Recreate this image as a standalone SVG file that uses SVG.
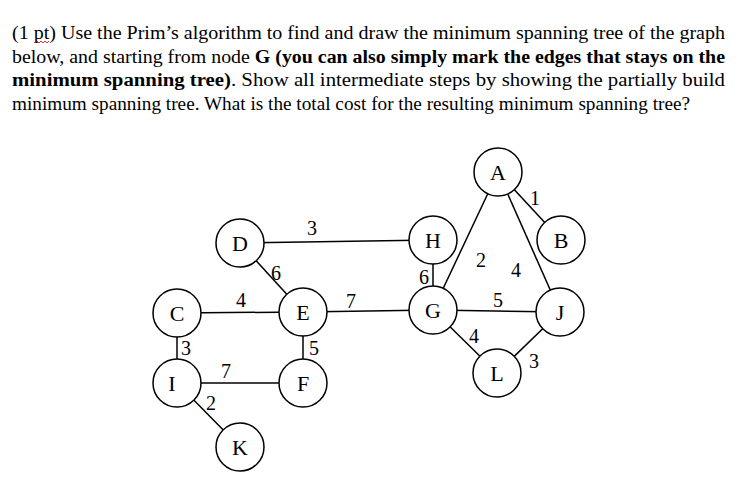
<svg xmlns="http://www.w3.org/2000/svg" width="751" height="504" viewBox="0 0 751 504">
<style>
.t{font-family:"Liberation Serif",serif;font-size:19.2px;fill:#000}
.n circle{fill:#fff;stroke:#000;stroke-width:1.5}
.n text{font-family:"Liberation Serif",serif;font-size:22px;text-anchor:middle;fill:#000}
.e line{stroke:#000;stroke-width:1.5}
.w{font-family:"Liberation Serif",serif;font-size:20px;text-anchor:middle;fill:#000}
</style>
<rect width="751" height="504" fill="#fff"/>
<text class="t" x="12" y="39" textLength="713" lengthAdjust="spacingAndGlyphs">(1 pt) Use the Prim’s algorithm to find and draw the minimum spanning tree of the graph</text>
<text class="t" x="12" y="63" textLength="713" lengthAdjust="spacingAndGlyphs">below, and starting from node <tspan font-weight="bold">G (you can also simply mark the edges that stays on the</tspan></text>
<text class="t" x="12" y="86" textLength="713" lengthAdjust="spacingAndGlyphs"><tspan font-weight="bold">minimum spanning tree)</tspan>. Show all intermediate steps by showing the partially build</text>
<text class="t" x="12" y="110" textLength="678" lengthAdjust="spacingAndGlyphs">minimum spanning tree. What is the total cost for the resulting minimum spanning tree?</text>
<path d="M35 43 l2 -2 l2 2 l2 -2 l2 2 l2 -2 l2 2 l2 -2" stroke="#c00" stroke-width="0.8" fill="none"/>
<g id="edges" class="e">
<line x1="240" y1="243" x2="433" y2="240"/>
<line x1="240" y1="243" x2="303" y2="312"/>
<line x1="177" y1="313" x2="303" y2="312"/>
<line x1="303" y1="312" x2="433" y2="310"/>
<line x1="433" y1="240" x2="433" y2="310"/>
<line x1="498" y1="172" x2="433" y2="310"/>
<line x1="498" y1="172" x2="560" y2="312"/>
<line x1="498" y1="172" x2="561" y2="240"/>
<line x1="433" y1="310" x2="560" y2="312"/>
<line x1="433" y1="310" x2="497" y2="373"/>
<line x1="560" y1="312" x2="497" y2="373"/>
<line x1="177" y1="313" x2="177" y2="383"/>
<line x1="303" y1="312" x2="303" y2="383"/>
<line x1="177" y1="383" x2="303" y2="383"/>
<line x1="177" y1="383" x2="240" y2="447"/>
</g>
<g id="weights">
<text class="w" x="312" y="235">3</text>
<text class="w" x="276" y="280">6</text>
<text class="w" x="241" y="307">4</text>
<text class="w" x="351" y="308">7</text>
<text class="w" x="424" y="284">6</text>
<text class="w" x="481" y="267">2</text>
<text class="w" x="516" y="277">4</text>
<text class="w" x="535" y="205">1</text>
<text class="w" x="498" y="307">5</text>
<text class="w" x="474" y="343">4</text>
<text class="w" x="534" y="368">3</text>
<text class="w" x="186" y="355">3</text>
<text class="w" x="314" y="355">5</text>
<text class="w" x="226" y="378">7</text>
<text class="w" x="211" y="410">2</text>
</g>
<g id="A" class="n"><circle cx="498" cy="172" r="24"/><text x="498" y="180">A</text></g>
<g id="B" class="n"><circle cx="561" cy="240" r="24"/><text x="561" y="248">B</text></g>
<g id="D" class="n"><circle cx="240" cy="243" r="24"/><text x="240" y="251">D</text></g>
<g id="H" class="n"><circle cx="433" cy="240" r="24"/><text x="433" y="248">H</text></g>
<g id="C" class="n"><circle cx="177" cy="313" r="24"/><text x="177" y="321">C</text></g>
<g id="E" class="n"><circle cx="303" cy="312" r="24"/><text x="303" y="320">E</text></g>
<g id="G" class="n"><circle cx="433" cy="310" r="24"/><text x="433" y="318">G</text></g>
<g id="J" class="n"><circle cx="560" cy="312" r="24"/><text x="560" y="320">J</text></g>
<g id="I" class="n"><circle cx="177" cy="383" r="24"/><text x="172" y="391">I</text></g>
<g id="F" class="n"><circle cx="303" cy="383" r="24"/><text x="303" y="391">F</text></g>
<g id="L" class="n"><circle cx="497" cy="373" r="24"/><text x="497" y="381">L</text></g>
<g id="K" class="n"><circle cx="240" cy="447" r="24"/><text x="240" y="455">K</text></g>
</svg>
